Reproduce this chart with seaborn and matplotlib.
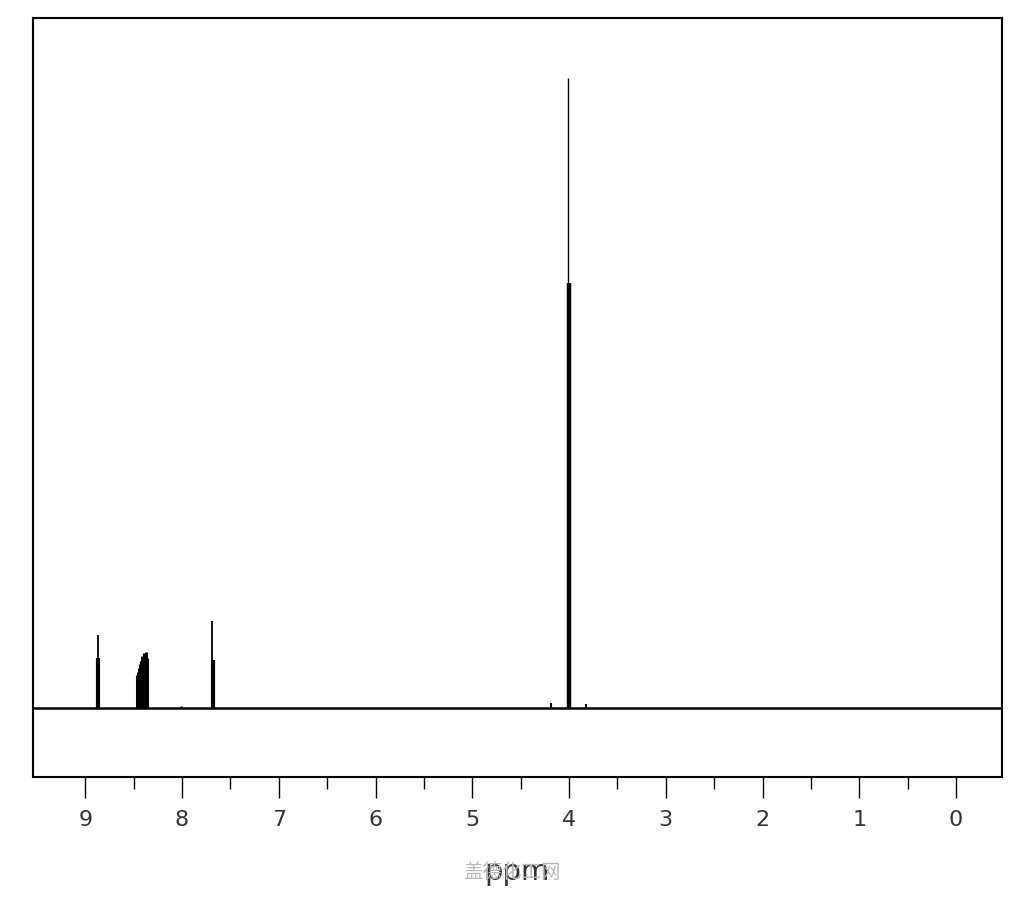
import numpy as np
import matplotlib
matplotlib.use("Agg")
import matplotlib.pyplot as plt
import seaborn as sns

# ------------------------
# Dados (ppm, altura relativa à linha de base)
# ------------------------
peak_ppm = [8.872, 8.868,
            8.462, 8.452, 8.442, 8.432, 8.422, 8.412, 8.402, 8.392, 8.382, 8.372, 8.362,
            7.690, 7.684,
            8.010, 4.190, 3.820,
            4.012, 4.004]
peak_height = [73, 50,
               33, 36, 40, 44, 47, 52, 50, 55, 54, 56, 50,
               87, 48,
               2, 5, 4,
               630, 425]
peak_width = [1.3, 3,
              2.2, 2.2, 2.2, 2.2, 2.2, 2.2, 2.2, 2.2, 2.2, 2.2, 2.2,
              1.3, 3,
              2, 1.5, 1.5,
              1.0, 3.2]

major_ticks = list(range(0, 10))
minor_ticks = [0.5 + i for i in range(0, 9)]
tick_labels = [str(t) for t in major_ticks]

XLIM = (9.54, -0.475)
YLIM = (-69, 690)

sns.set_style("white")

fig = plt.figure(figsize=(10.24, 9.0), dpi=100)
ax = fig.add_axes([33 / 1024, 1 - 777 / 900, 969 / 1024, 759 / 900])

# linha de base
ax.axhline(0, color="black", lw=1.8, zorder=2)
# picos
ax.vlines(peak_ppm, 0, peak_height, colors="black", linewidths=peak_width, zorder=3)

ax.set_xlim(*XLIM)
ax.set_ylim(*YLIM)
ax.set_yticks([])
ax.set_xticks(major_ticks)
ax.set_xticklabels(tick_labels)
ax.set_xticks(minor_ticks, minor=True)
ax.tick_params(axis="x", which="major", direction="out", length=15, width=1.0,
               color="black", pad=9, labelsize=16, labelcolor="#333333", bottom=True)
ax.tick_params(axis="x", which="minor", direction="out", length=8.5, width=1.0,
               color="black", bottom=True)

for s in ax.spines.values():
    s.set_color("black")
    s.set_linewidth(1.5)

ax.set_xlabel("ppm", fontsize=21, color="#333333", labelpad=20)

# marca d'água
fig.text(512 / 1024, 1 - 873 / 900, "盖德化工网", fontsize=14, color="#b8b8b8",
         ha="center", va="center", family=["Noto Sans CJK SC", "DejaVu Sans"], zorder=0)

fig.savefig("out.png", dpi=100)
